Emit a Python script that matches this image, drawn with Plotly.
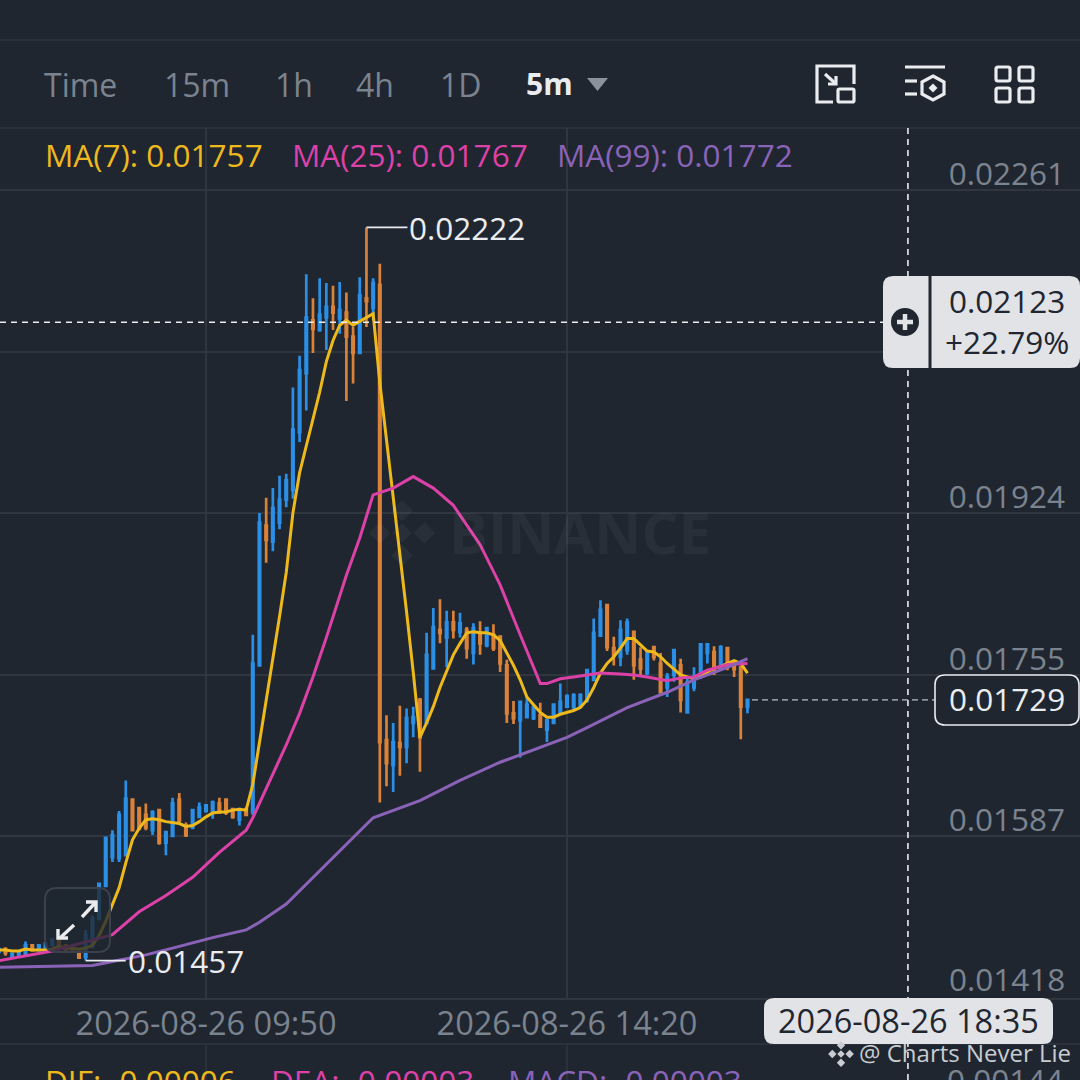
import pandas as pd
import plotly.graph_objects as go

# 5 minute bars, 07:15 to 16:35
bars = pd.date_range("2026-08-26 07:15", periods=113, freq="5min")

opens = [
    0.01466, 0.01469, 0.01461, 0.01462, 0.01463, 0.01473, 0.01468, 0.01470, 0.01473, 0.01479,
    0.01473, 0.01471, 0.01465, 0.01461, 0.01472, 0.01501, 0.01535, 0.01565, 0.01564, 0.01567,
    0.01625, 0.01616, 0.01609, 0.01593, 0.01614, 0.01580, 0.01587, 0.01625, 0.01598, 0.01596,
    0.01607, 0.01613, 0.01612, 0.01621, 0.01625, 0.01615, 0.01604, 0.01615, 0.01612, 0.01765,
    0.01911, 0.01894, 0.01914, 0.01938, 0.01948, 0.02008, 0.02070, 0.02125, 0.02115, 0.02128,
    0.02139, 0.02127, 0.02133, 0.02108, 0.02091, 0.02148, 0.02138, 0.02162, 0.01687, 0.01661,
    0.01684, 0.01680, 0.01705, 0.01729, 0.01705, 0.01762, 0.01802, 0.01794, 0.01810, 0.01800,
    0.01802, 0.01778, 0.01799, 0.01786, 0.01797, 0.01795, 0.01765, 0.01715, 0.01708, 0.01711,
    0.01710, 0.01713, 0.01698, 0.01705, 0.01716, 0.01722, 0.01722, 0.01722, 0.01729, 0.01750,
    0.01796, 0.01828, 0.01783, 0.01774, 0.01781, 0.01800, 0.01771, 0.01757, 0.01784, 0.01767,
    0.01742, 0.01755, 0.01765, 0.01716, 0.01742, 0.01755, 0.01778, 0.01779, 0.01767, 0.01783,
    0.01765, 0.01763, 0.01722,
]
highs = [
    0.01470, 0.01471, 0.01465, 0.01466, 0.01477, 0.01474, 0.01474, 0.01476, 0.01480, 0.01480,
    0.01474, 0.01472, 0.01466, 0.01489, 0.01504, 0.01538, 0.01585, 0.01593, 0.01613, 0.01645,
    0.01626, 0.01617, 0.01621, 0.01614, 0.01615, 0.01592, 0.01627, 0.01632, 0.01601, 0.01615,
    0.01622, 0.01620, 0.01624, 0.01627, 0.01626, 0.01616, 0.01616, 0.01616, 0.01797, 0.01924,
    0.01940, 0.01950, 0.01963, 0.01965, 0.02055, 0.02088, 0.02173, 0.02148, 0.02169, 0.02164,
    0.02161, 0.02165, 0.02154, 0.02118, 0.02170, 0.02222, 0.02169, 0.02184, 0.01713, 0.01705,
    0.01723, 0.01720, 0.01722, 0.01731, 0.01799, 0.01825, 0.01834, 0.01822, 0.01822, 0.01820,
    0.01805, 0.01809, 0.01811, 0.01805, 0.01808, 0.01796, 0.01771, 0.01728, 0.01727, 0.01732,
    0.01725, 0.01726, 0.01708, 0.01725, 0.01746, 0.01735, 0.01736, 0.01736, 0.01761, 0.01814,
    0.01833, 0.01829, 0.01795, 0.01812, 0.01814, 0.01801, 0.01784, 0.01781, 0.01785, 0.01778,
    0.01757, 0.01782, 0.01772, 0.01752, 0.01763, 0.01788, 0.01788, 0.01785, 0.01786, 0.01784,
    0.01770, 0.01763, 0.01730,
]
lows = [
    0.01465, 0.01462, 0.01460, 0.01461, 0.01461, 0.01467, 0.01467, 0.01469, 0.01472, 0.01470,
    0.01466, 0.01465, 0.01459, 0.01457, 0.01470, 0.01499, 0.01534, 0.01560, 0.01560, 0.01567,
    0.01592, 0.01593, 0.01593, 0.01588, 0.01578, 0.01567, 0.01587, 0.01601, 0.01586, 0.01594,
    0.01607, 0.01613, 0.01605, 0.01610, 0.01609, 0.01605, 0.01598, 0.01609, 0.01609, 0.01765,
    0.01872, 0.01884, 0.01907, 0.01930, 0.01939, 0.01998, 0.02031, 0.02091, 0.02113, 0.02094,
    0.02115, 0.02111, 0.02041, 0.02059, 0.02090, 0.02118, 0.02125, 0.01622, 0.01639, 0.01633,
    0.01650, 0.01663, 0.01690, 0.01654, 0.01705, 0.01762, 0.01788, 0.01763, 0.01793, 0.01794,
    0.01772, 0.01766, 0.01776, 0.01784, 0.01780, 0.01758, 0.01705, 0.01704, 0.01669, 0.01710,
    0.01708, 0.01700, 0.01685, 0.01705, 0.01715, 0.01722, 0.01718, 0.01721, 0.01726, 0.01750,
    0.01796, 0.01780, 0.01765, 0.01764, 0.01776, 0.01750, 0.01753, 0.01755, 0.01770, 0.01737,
    0.01732, 0.01748, 0.01716, 0.01716, 0.01738, 0.01751, 0.01767, 0.01755, 0.01760, 0.01760,
    0.01753, 0.01688, 0.01715,
]
closes = [
    0.01469, 0.01465, 0.01464, 0.01465, 0.01473, 0.01468, 0.01473, 0.01475, 0.01479, 0.01472,
    0.01468, 0.01467, 0.01460, 0.01484, 0.01501, 0.01537, 0.01585, 0.01588, 0.01609, 0.01626,
    0.01593, 0.01595, 0.01596, 0.01612, 0.01580, 0.01591, 0.01621, 0.01603, 0.01588, 0.01614,
    0.01617, 0.01619, 0.01622, 0.01612, 0.01612, 0.01607, 0.01615, 0.01609, 0.01767, 0.01914,
    0.01896, 0.01929, 0.01938, 0.01958, 0.02011, 0.02073, 0.02128, 0.02116, 0.02131, 0.02139,
    0.02133, 0.02136, 0.02108, 0.02091, 0.02151, 0.02145, 0.02164, 0.01685, 0.01663, 0.01685,
    0.01680, 0.01710, 0.01711, 0.01690, 0.01776, 0.01805, 0.01799, 0.01810, 0.01802, 0.01809,
    0.01783, 0.01804, 0.01788, 0.01804, 0.01783, 0.01767, 0.01715, 0.01710, 0.01727, 0.01724,
    0.01721, 0.01701, 0.01708, 0.01724, 0.01727, 0.01733, 0.01734, 0.01734, 0.01760, 0.01799,
    0.01823, 0.01784, 0.01776, 0.01802, 0.01810, 0.01765, 0.01762, 0.01779, 0.01774, 0.01737,
    0.01753, 0.01781, 0.01729, 0.01747, 0.01753, 0.01787, 0.01787, 0.01760, 0.01784, 0.01767,
    0.01761, 0.01722, 0.01729,
]

ma7 = [
    0.01468, 0.01468, 0.01467, 0.01467, 0.01469, 0.01468, 0.01468, 0.01468, 0.01469, 0.01472,
    0.01470, 0.01470, 0.01469, 0.01470, 0.01473, 0.01483, 0.01498, 0.01515, 0.01533, 0.01559,
    0.01583, 0.01595, 0.01604, 0.01605, 0.01604, 0.01602, 0.01601, 0.01600, 0.01597, 0.01598,
    0.01602, 0.01607, 0.01611, 0.01612, 0.01612, 0.01614, 0.01615, 0.01614, 0.01641, 0.01684,
    0.01727, 0.01771, 0.01816, 0.01862, 0.01924, 0.01966, 0.01993, 0.02023, 0.02050, 0.02082,
    0.02104, 0.02120, 0.02125, 0.02120, 0.02124, 0.02128, 0.02132, 0.02060, 0.02001, 0.01943,
    0.01881, 0.01821, 0.01758, 0.01690, 0.01705, 0.01722, 0.01742, 0.01760, 0.01776, 0.01788,
    0.01799, 0.01800, 0.01799, 0.01799, 0.01797, 0.01791, 0.01778, 0.01765, 0.01750, 0.01732,
    0.01724, 0.01716, 0.01711, 0.01711, 0.01714, 0.01716, 0.01718, 0.01721, 0.01729, 0.01742,
    0.01757, 0.01767, 0.01774, 0.01783, 0.01793, 0.01793, 0.01786, 0.01780, 0.01779, 0.01774,
    0.01767, 0.01761, 0.01755, 0.01753, 0.01751, 0.01755, 0.01758, 0.01762, 0.01764, 0.01767,
    0.01770, 0.01767, 0.01757,
]
ma25_bars = [0, 8, 17, 21, 25, 29, 33, 37, 38, 43, 45, 47, 49, 52, 54, 56, 59, 62, 65, 68, 72, 75, 78, 81, 82,
             84, 86, 88, 90, 93, 95, 97, 99, 100, 102, 104, 106, 109, 112]
ma25 = [
    0.01457, 0.01467, 0.01484, 0.01508, 0.01525, 0.01544, 0.01570, 0.01593, 0.01606, 0.01682,
    0.01715, 0.01753, 0.01794, 0.01859, 0.01898, 0.01943, 0.01950, 0.01962, 0.01950, 0.01932,
    0.01891, 0.01849, 0.01797, 0.01746, 0.01746, 0.01751, 0.01753, 0.01755, 0.01757, 0.01756,
    0.01755, 0.01753, 0.01750, 0.01749, 0.01752, 0.01753, 0.01760, 0.01766, 0.01767,
]
ma99_bars = [0, 10, 14, 17, 22, 26, 32, 37, 39, 43, 54, 56, 63, 69, 75, 85, 88, 94, 100, 104, 109, 112]
ma99 = [
    0.01450, 0.01451, 0.01452, 0.01456, 0.01463, 0.01470, 0.01481, 0.01489, 0.01497, 0.01516,
    0.01592, 0.01606, 0.01624, 0.01645, 0.01664, 0.01690, 0.01700, 0.01721, 0.01737, 0.01750,
    0.01763, 0.01772,
]

price_ticks = [0.02261, 0.02092, 0.01924, 0.01755, 0.01587, 0.01418]
# 0.02092 sits behind the price tag; 0.01418 gets hidden by the axis, so it is an annotation below
price_labels = ["0.02261", "", "0.01924", "0.01755", "0.01587", ""]
time_ticks = ["2026-08-26 09:50", "2026-08-26 14:20"]

BG = "#1f2630"
GRID = "#30363f"
BLUE = "#2b8fe6"
ORANGE = "#d8823a"
YELLOW = "#eeb91c"
PINK = "#dc41a8"
PURPLE = "#8a63b8"
DIM = "#7b838e"
PALE = "#e1e3e7"
WHITE = "#eaecef"
FONT = "Open Sans"
TEXT_SIZE = 31.5


def px(x):
    return x / 1080


def py(y):
    return 1 - y / 1080


def path(points, close=False):
    d = "M" + " L".join(f"{px(x)},{py(y)}" for x, y in points)
    return d + (" Z" if close else "")


def line_shape(points, color=WHITE, width=3.2, close=False):
    return dict(type="path", xref="paper", yref="paper", path=path(points, close),
                line=dict(color=color, width=width))


def round_rect(x0, y0, x1, y1, r, fill, color=None, width=0):
    d = (
        f"M{px(x0 + r)},{py(y0)} L{px(x1 - r)},{py(y0)} Q{px(x1)},{py(y0)} {px(x1)},{py(y0 + r)} "
        f"L{px(x1)},{py(y1 - r)} Q{px(x1)},{py(y1)} {px(x1 - r)},{py(y1)} "
        f"L{px(x0 + r)},{py(y1)} Q{px(x0)},{py(y1)} {px(x0)},{py(y1 - r)} "
        f"L{px(x0)},{py(y0 + r)} Q{px(x0)},{py(y0)} {px(x0 + r)},{py(y0)} Z"
    )
    return dict(type="path", xref="paper", yref="paper", path=d, fillcolor=fill,
                line=dict(color=color or fill, width=width))


def diamond(cx, cy, r, fill):
    return dict(type="path", xref="paper", yref="paper", fillcolor=fill, line=dict(width=0),
                path=path([(cx, cy - r), (cx + r, cy), (cx, cy + r), (cx - r, cy)], True))


def binance_logo(cx, cy, r, fill):
    step = r * 0.62
    parts = [diamond(cx, cy, r * 0.27, fill)]
    for dx, dy in [(0, -step), (step, 0), (0, step), (-step, 0)]:
        parts.append(diamond(cx + dx, cy + dy, r * 0.3, fill))
    return parts


def hline(y, x0=0, x1=1080):
    return dict(type="line", xref="paper", yref="paper", x0=px(x0), x1=px(x1), y0=py(y), y1=py(y),
                line=dict(color=GRID, width=1.5))


def label(x, y, text, color, size=TEXT_SIZE, anchor="left", bold=False):
    # annotation boxes carry a little padding, so left aligned text starts late
    shift = -3 if anchor == "left" else 0
    return dict(xref="paper", yref="paper", x=px(x + shift), y=py(y - 1.5), text=text, showarrow=False,
                xanchor=anchor, yanchor="middle", font=dict(family=FONT, size=size, color=color,
                                                            weight="bold" if bold else "normal"))


fig = go.Figure()
fig.add_trace(go.Candlestick(
    x=bars, open=opens, high=highs, low=lows, close=closes,
    increasing=dict(line=dict(color=BLUE, width=2.7), fillcolor=BLUE),
    decreasing=dict(line=dict(color=ORANGE, width=2.7), fillcolor=ORANGE),
    hoverinfo="skip", showlegend=False,
))
fig.add_trace(go.Scatter(x=bars, y=ma7, mode="lines", line=dict(color=YELLOW, width=3),
                         hoverinfo="skip", showlegend=False))
fig.add_trace(go.Scatter(x=bars[ma25_bars], y=ma25, mode="lines", line=dict(color=PINK, width=3),
                         hoverinfo="skip", showlegend=False))
fig.add_trace(go.Scatter(x=bars[ma99_bars], y=ma99, mode="lines", line=dict(color=PURPLE, width=3),
                         hoverinfo="skip", showlegend=False))

# panel lines, icons and tags are all placed in window pixels
shapes = [hline(40), hline(128), hline(1044)]
for t in time_ticks:
    shapes.append(dict(type="line", xref="x", yref="paper", x0=t, x1=t, y0=py(1044), y1=0,
                       line=dict(color=GRID, width=1.5)))

# watermark
shapes += binance_logo(402, 533, 36, "rgba(255,255,255,0.045)")

# crosshair and last price line
cross_time = "2026-08-26 18:35"
shapes.append(dict(type="line", xref="x", yref="paper", x0=cross_time, x1=cross_time, y0=py(128), y1=0,
                   line=dict(color=WHITE, width=1.6, dash="6px,5px")))
shapes.append(dict(type="line", xref="paper", yref="y", x0=0, x1=px(883), y0=0.02123, y1=0.02123,
                   line=dict(color=WHITE, width=1.6, dash="6px,5px")))
shapes.append(dict(type="line", xref="paper", yref="y", x0=px(752), x1=px(935), y0=0.01729, y1=0.01729,
                   line=dict(color="#b9bec6", width=1.4, dash="6px,4px")))

# triangle next to 5m
shapes.append(dict(type="path", xref="paper", yref="paper", fillcolor="#8b929c", line=dict(width=0),
                   path=path([(587, 78), (608, 78), (597.5, 91)], True)))

# icon 1
shapes.append(line_shape([(833, 102), (817, 102), (817, 66), (854, 66), (854, 84)]))
shapes.append(round_rect(838, 89, 854, 102, 1.5, BG, WHITE, 3.2))
shapes.append(line_shape([(825, 74), (836, 84)]))
shapes.append(line_shape([(836, 76), (836, 84), (828, 84)]))
# icon 2
shapes.append(line_shape([(905, 67), (945, 67)]))
shapes.append(line_shape([(905, 81), (917, 81)]))
shapes.append(line_shape([(905, 94), (917, 94)]))
shapes.append(line_shape([(933, 76), (944, 82), (944, 94), (933, 100), (922, 94), (922, 82)], close=True))
shapes.append(diamond(933, 88, 4.5, WHITE))
# icon 3
for x0 in (996, 1019):
    for y0 in (67, 88):
        shapes.append(round_rect(x0, y0, x0 + 14, y0 + 14, 2, BG, WHITE, 3.2))

# expand button
shapes.append(round_rect(45, 888, 110, 952, 12, "rgba(31,38,48,0.78)", "#3b414c", 2))
shapes.append(line_shape([(82, 917), (95, 903)], width=3.4))
shapes.append(line_shape([(86, 902), (96, 902), (96, 912)], width=3.4))
shapes.append(line_shape([(74, 925), (60, 938)], width=3.4))
shapes.append(line_shape([(58, 929), (58, 938), (68, 938)], width=3.4))

# price tag on the crosshair
shapes.append(round_rect(883, 276, 1080, 368, 10, PALE))
shapes.append(dict(type="line", xref="paper", yref="paper", x0=px(930), x1=px(930), y0=py(276), y1=py(368),
                   line=dict(color=BG, width=3)))
shapes.append(dict(type="circle", xref="paper", yref="paper", x0=px(891), x1=px(919), y0=py(336), y1=py(308),
                   fillcolor=BG, line=dict(width=0)))
shapes.append(line_shape([(897, 322), (913, 322)], color=PALE, width=4.5))
shapes.append(line_shape([(905, 314), (905, 330)], color=PALE, width=4.5))

# last price box and date tag
shapes.append(round_rect(935, 675, 1079, 725, 10, BG, WHITE, 1.6))
shapes.append(round_rect(764, 998, 1053, 1044, 10, PALE))

# footer logo
shapes += binance_logo(841, 1054, 14, "#c9ccd1")

annotations = [
    label(45, 86, "Time", DIM, 32), label(165, 86, "15m", DIM, 32), label(276, 86, "1h", DIM, 32),
    label(357, 86, "4h", DIM, 32), label(441, 86, "1D", DIM, 32), label(527, 85, "5m", WHITE, 30, bold=True),
    label(46, 156, "MA(7): 0.01757", YELLOW),
    label(293, 156, "MA(25): 0.01767", PINK),
    label(558, 156, "MA(99): 0.01772", PURPLE),
    label(450, 533, "BINANCE", "rgba(255,255,255,0.045)", 58, bold=True),
    label(1007, 302, "0.02123", BG, anchor="center"),
    label(1007, 343, "+22.79%", BG, anchor="center"),
    label(1007, 700, "0.01729", WHITE, anchor="center"),
    label(908, 1022, cross_time, BG, 32.5, "center"),
    label(860, 1054, "@ Charts Never Lie", "#c9ccd1", 24),
    label(46, 1082, "DIF: -0.00006", YELLOW),
    label(272, 1082, "DEA: -0.00003", PINK),
    label(509, 1082, "MACD: -0.00003", PURPLE),
    label(1065, 1081, "0.00144", DIM, anchor="right"),
    dict(xref="paper", yref="y", x=px(1067), y=price_ticks[-1], yshift=20, text="0.01418", showarrow=False,
         xanchor="right", yanchor="middle", font=dict(family=FONT, size=TEXT_SIZE, color=DIM)),
    dict(x=bars[55], y=highs[55], text="0.02222", showarrow=True, arrowhead=0, arrowwidth=1.6,
         arrowcolor=WHITE, ax=41, ay=0, xanchor="left", yanchor="middle",
         font=dict(family=FONT, size=TEXT_SIZE, color=WHITE)),
    dict(x=bars[13], y=lows[13], text="0.01457", showarrow=True, arrowhead=0, arrowwidth=1.6,
         arrowcolor=WHITE, ax=40, ay=0, xanchor="left", yanchor="middle",
         font=dict(family=FONT, size=TEXT_SIZE, color=WHITE)),
]

fig.update_layout(
    width=1080,
    height=1080,
    margin=dict(l=0, r=0, t=0, b=0),
    paper_bgcolor=BG,
    plot_bgcolor=BG,
    showlegend=False,
    boxgap=0.7,
    hovermode=False,
    shapes=shapes,
    annotations=annotations,
    xaxis=dict(
        type="date",
        range=["2026-08-26 07:15:55", "2026-08-26 20:43:42"],
        rangeslider=dict(visible=False),
        tickvals=time_ticks,
        ticktext=time_ticks,
        ticklabelstandoff=-4,
        tickfont=dict(family=FONT, size=32.5, color=DIM),
        showgrid=True,
        gridcolor=GRID,
        gridwidth=1.5,
        zeroline=False,
        showline=True,
        linecolor=GRID,
        linewidth=1.5,
        ticks="",
    ),
    yaxis=dict(
        domain=[py(998), py(128)],
        range=[0.01418, 0.023257],
        side="right",
        ticklabelposition="inside top",
        ticklabelstandoff=12,
        ticklabelshift=6,
        tickvals=price_ticks,
        ticktext=price_labels,
        tickfont=dict(family=FONT, size=TEXT_SIZE, color=DIM),
        showgrid=True,
        gridcolor=GRID,
        gridwidth=1.5,
        zeroline=False,
        ticks="",
    ),
)

# the page's default body margin would push the figure out of the window
fig.write_html(
    "out.html",
    config=dict(displayModeBar=False),
    post_script="document.body.style.margin='0';document.body.style.overflow='hidden';",
)
